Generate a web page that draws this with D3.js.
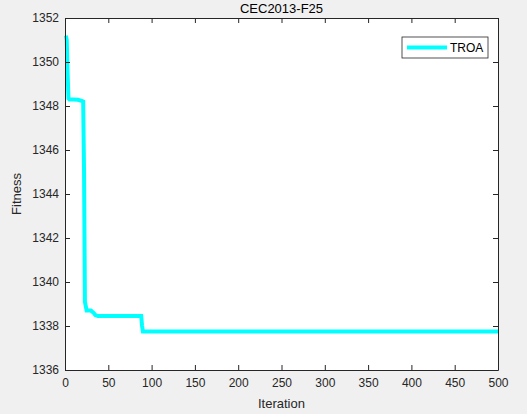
<!DOCTYPE html><html><head><meta charset="utf-8"><script src="https://cdn.jsdelivr.net/npm/d3@7"></script>
<style>body{margin:0;background:#f0f0f0}text{font-family:Arial,"Liberation Sans",sans-serif}</style></head><body>
<svg id="c" width="527" height="414"></svg>
<script>
const iters=[1,2,3,4,5,10,15,20,21,22,23,24,25,30,33,35,38,50,70,88,89,90,91,200,300,400,500];
const fitness=[1351.2,1351.0,1349.5,1348.35,1348.3,1348.3,1348.28,1348.22,1348.2,1345,1339.1,1338.9,1338.7,1338.7,1338.6,1338.5,1338.45,1338.45,1338.45,1338.45,1338.0,1337.75,1337.75,1337.75,1337.75,1337.75,1337.75];
const xTicks=d3.range(0,501,50), yTicks=d3.range(1336,1353,2);
const svg=d3.select("#c");
const L=65,R=498,T=18,B=370;
const x=d3.scaleLinear().domain([0,500]).range([L,R]);
const y=d3.scaleLinear().domain([1336,1352]).range([B,T]);
svg.append("rect").attr("x",L).attr("y",T).attr("width",R-L).attr("height",B-T).attr("fill","#fff");
const line=d3.line().x((d,i)=>x(iters[i])).y(d=>y(d));
svg.append("path").datum(fitness).attr("d",line).attr("fill","none").attr("stroke","#00ffff").attr("stroke-width",4);
const gx=svg.append("g").attr("transform",`translate(0,${B})`).call(d3.axisBottom(x).tickValues(xTicks).tickSizeInner(-5).tickSizeOuter(0).tickPadding(8).tickFormat(d3.format("d")));
const gxt=svg.append("g").attr("transform",`translate(0,${T})`).call(d3.axisTop(x).tickValues(xTicks).tickSizeInner(-5).tickSizeOuter(0).tickFormat(""));
const gy=svg.append("g").attr("transform",`translate(${L},0)`).call(d3.axisLeft(y).tickValues(yTicks).tickSizeInner(-5).tickSizeOuter(0).tickPadding(6).tickFormat(d3.format("d")));
const gyr=svg.append("g").attr("transform",`translate(${R},0)`).call(d3.axisRight(y).tickValues(yTicks).tickSizeInner(-5).tickSizeOuter(0).tickFormat(""));
[gx,gxt,gy,gyr].forEach(g=>{g.selectAll("path,line").attr("stroke","#262626");g.selectAll("text").attr("font-size",12).attr("fill","#262626").style("font-family","Arial,'Liberation Sans',sans-serif");});
svg.append("text").attr("x",(L+R)/2).attr("y",13).attr("text-anchor","middle").attr("font-size",13).attr("fill","#000").text("CEC2013-F25");
svg.append("text").attr("x",(L+R)/2).attr("y",408).attr("text-anchor","middle").attr("font-size",13).attr("fill","#262626").text("Iteration");
svg.append("text").attr("transform",`translate(21,${(T+B)/2}) rotate(-90)`).attr("text-anchor","middle").attr("font-size",13).attr("fill","#262626").text("Fitness");
const lg=svg.append("g");
lg.append("rect").attr("x",402).attr("y",37).attr("width",86).attr("height",21).attr("fill","#fff").attr("stroke","#262626").attr("stroke-width",0.8);
lg.append("line").attr("x1",407).attr("x2",447).attr("y1",47.5).attr("y2",47.5).attr("stroke","#00ffff").attr("stroke-width",4);
lg.append("text").attr("x",450).attr("y",52).attr("font-size",12).attr("fill","#000").text("TROA");
</script></body></html>
